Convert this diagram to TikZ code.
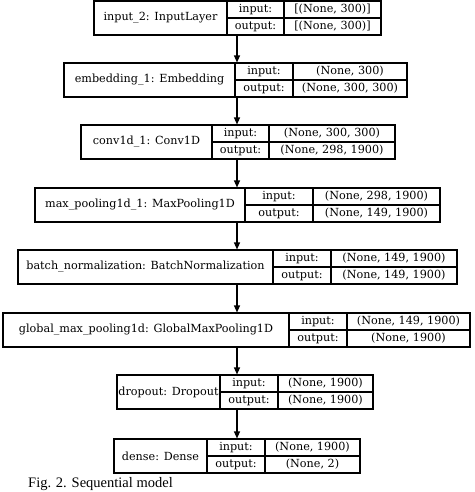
\documentclass[tikz,border=0pt]{standalone}
\usepackage{fontspec}
\setmainfont{DejaVu Serif}
\newfontfamily\capfont{Liberation Serif}
\usetikzlibrary{arrows.meta}

\begin{document}
\begin{tikzpicture}[
  x=1pt,y=-1pt,
  cell/.style={rectangle,draw=black,line width=1.1pt,inner sep=0pt,font=\fontsize{11.2}{13}\selectfont},
  half/.style={cell,minimum height=17pt},
  full/.style={cell,minimum height=34pt},
  arr/.style={-{Triangle[length=7pt,width=6pt]},line width=1.2pt,draw=black}
]
\useasboundingbox (0,0) rectangle (474,492);
\coordinate (ax) at (237,0);

% input layer
\node[full,minimum width=133pt] (n1) at (160.5,18) {input\_2: InputLayer};
\node[half,minimum width=57pt] (i1) at (255.5,9.5) {input:};
\node[half,minimum width=57pt] (o1) at (255.5,26.5) {output:};
\node[half,minimum width=97pt] (a1) at (332.5,9.5) {[(None, 300)]};
\node[half,minimum width=97pt] (b1) at (332.5,26.5) {[(None, 300)]};

% embedding
\node[full,minimum width=171pt] (n2) at (149.5,80) {embedding\_1: Embedding};
\node[half,minimum width=58pt] (i2) at (264,71.5) {input:};
\node[half,minimum width=58pt] (o2) at (264,88.5) {output:};
\node[half,minimum width=114pt] (a2) at (350,71.5) {(None, 300)};
\node[half,minimum width=114pt] (b2) at (350,88.5) {(None, 300, 300)};

% conv
\node[full,minimum width=131pt] (n3) at (146.5,142) {conv1d\_1: Conv1D};
\node[half,minimum width=57pt] (i3) at (240.5,133.5) {input:};
\node[half,minimum width=57pt] (o3) at (240.5,150.5) {output:};
\node[half,minimum width=126pt] (a3) at (332,133.5) {(None, 300, 300)};
\node[half,minimum width=126pt] (b3) at (332,150.5) {(None, 298, 1900)};

% max pooling
\node[full,minimum width=210pt] (n4) at (140,205) {max\_pooling1d\_1: MaxPooling1D};
\node[half,minimum width=68pt] (i4) at (279,196.5) {input:};
\node[half,minimum width=68pt] (o4) at (279,213.5) {output:};
\node[half,minimum width=127pt] (a4) at (376.5,196.5) {(None, 298, 1900)};
\node[half,minimum width=127pt] (b4) at (376.5,213.5) {(None, 149, 1900)};

% batch norm
\node[full,minimum width=255pt] (n5) at (145.5,267) {batch\_normalization: BatchNormalization};
\node[half,minimum width=58pt] (i5) at (302,258.5) {input:};
\node[half,minimum width=58pt] (o5) at (302,275.5) {output:};
\node[half,minimum width=126pt] (a5) at (394,258.5) {(None, 149, 1900)};
\node[half,minimum width=126pt] (b5) at (394,275.5) {(None, 149, 1900)};

% global max pooling
\node[full,minimum width=286pt] (n6) at (146,330) {global\_max\_pooling1d: GlobalMaxPooling1D};
\node[half,minimum width=58pt] (i6) at (318,321.5) {input:};
\node[half,minimum width=58pt] (o6) at (318,338.5) {output:};
\node[half,minimum width=123pt] (a6) at (408.5,321.5) {(None, 149, 1900)};
\node[half,minimum width=123pt] (b6) at (408.5,338.5) {(None, 1900)};

% dropout
\node[full,minimum width=103pt] (n7) at (168.5,392) {dropout: Dropout};
\node[half,minimum width=58pt] (i7) at (249,383.5) {input:};
\node[half,minimum width=58pt] (o7) at (249,400.5) {output:};
\node[half,minimum width=95pt] (a7) at (325.5,383.5) {(None, 1900)};
\node[half,minimum width=95pt] (b7) at (325.5,400.5) {(None, 1900)};

% dense
\node[full,minimum width=93pt] (n8) at (160.5,456) {dense: Dense};
\node[half,minimum width=58pt] (i8) at (236,447.5) {input:};
\node[half,minimum width=58pt] (o8) at (236,464.5) {output:};
\node[half,minimum width=95pt] (a8) at (312.5,447.5) {(None, 1900)};
\node[half,minimum width=95pt] (b8) at (312.5,464.5) {(None, 2)};

\draw[arr] (n1.south -| ax) -- (n2.north -| ax);
\draw[arr] (n2.south -| ax) -- (n3.north -| ax);
\draw[arr] (n3.south -| ax) -- (n4.north -| ax);
\draw[arr] (n4.south -| ax) -- (n5.north -| ax);
\draw[arr] (n5.south -| ax) -- (n6.north -| ax);
\draw[arr] (n6.south -| ax) -- (n7.north -| ax);
\draw[arr] (n7.south -| ax) -- (n8.north -| ax);

\node[anchor=base west,inner sep=0pt,font=\capfont\fontsize{14.5}{16}\selectfont] (cap) at (28,487.5) {Fig. 2. Sequential model};
\end{tikzpicture}
\end{document}
